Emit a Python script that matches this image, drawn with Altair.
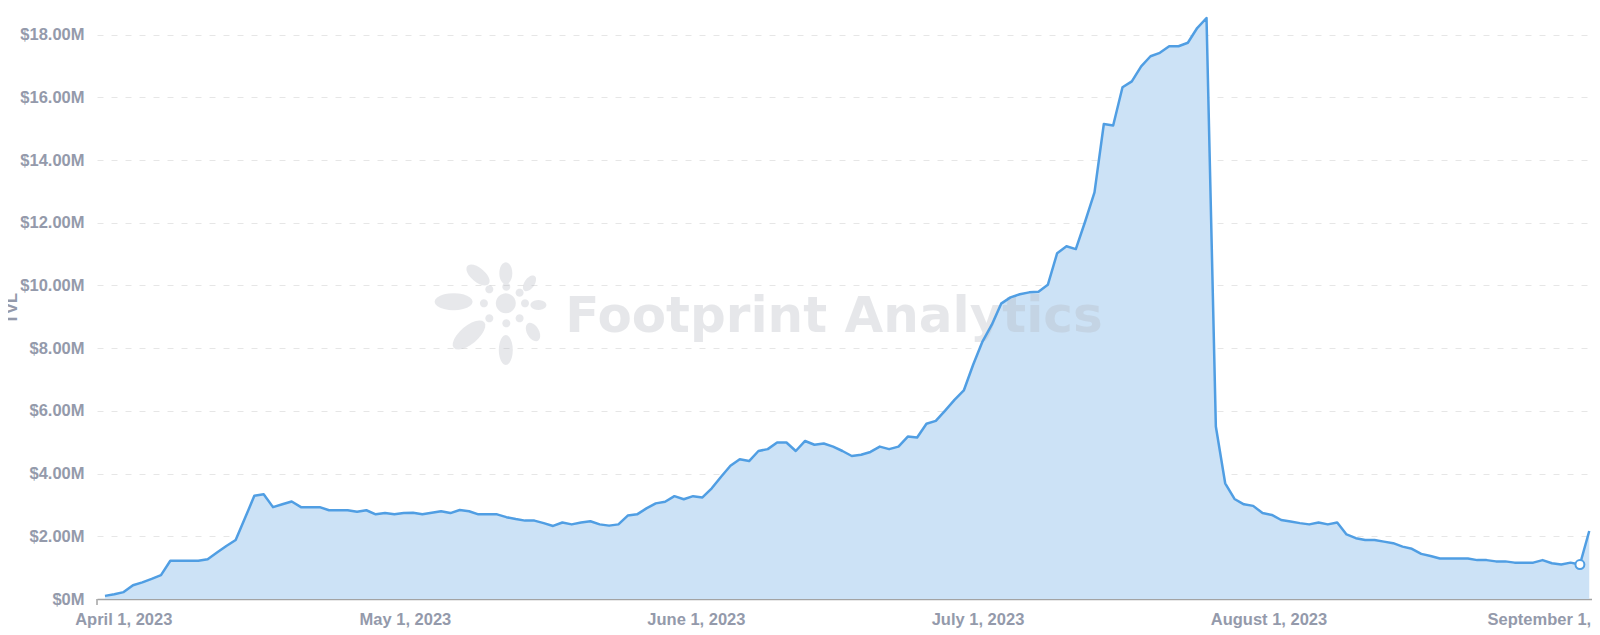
import math
import altair as alt
import pandas as pd

# ---------------- data ----------------
# points are evenly spaced between the first and the last reading
first_time = "2023-03-30T01:12:00"
last_time = "2023-09-04T04:05:00"
tvl_millions = [
    0.10, 0.15, 0.22, 0.44, 0.53, 0.64, 0.76, 1.22, 1.22, 1.22, 1.22, 1.27, 1.48, 1.69, 1.88, 2.58,
    3.29, 3.34, 2.93, 3.02, 3.11, 2.93, 2.93, 2.93, 2.83, 2.83, 2.83, 2.78, 2.83, 2.70, 2.74, 2.70,
    2.74, 2.75, 2.70, 2.75, 2.80, 2.74, 2.84, 2.80, 2.70, 2.70, 2.70, 2.61, 2.55, 2.50, 2.50, 2.42,
    2.33, 2.44, 2.38, 2.44, 2.48, 2.38, 2.34, 2.38, 2.66, 2.70, 2.89, 3.05, 3.10, 3.28, 3.18, 3.28,
    3.24, 3.53, 3.90, 4.25, 4.46, 4.40, 4.72, 4.78, 4.99, 4.99, 4.72, 5.04, 4.92, 4.96, 4.86, 4.72,
    4.56, 4.60, 4.69, 4.86, 4.78, 4.86, 5.18, 5.15, 5.59, 5.68, 6.01, 6.35, 6.65, 7.47, 8.21, 8.75,
    9.42, 9.62, 9.72, 9.78, 9.80, 10.02, 11.03, 11.25, 11.16, 12.04, 12.97, 15.15, 15.10, 16.32,
    16.51, 16.99, 17.31, 17.42, 17.63, 17.63, 17.74, 18.21, 18.53,
    5.50, 3.69, 3.19, 3.02, 2.97, 2.74, 2.68, 2.52, 2.47, 2.42, 2.38, 2.44, 2.38, 2.44, 2.06, 1.94,
    1.88, 1.88, 1.83, 1.78, 1.67, 1.60, 1.44, 1.37, 1.29, 1.29, 1.29, 1.29, 1.24, 1.24, 1.20, 1.20,
    1.16, 1.16, 1.16, 1.24, 1.14, 1.10, 1.16, 1.10, 2.17,
]
highlight_index = len(tvl_millions) - 2
y_ticks = [0, 2, 4, 6, 8, 10, 12, 14, 16, 18]
y_max = 18.53
x_domain = ["2023-03-29T04:48:00", "2023-09-04T21:20:00"]
x_tick_dates = [(2023, 4), (2023, 5), (2023, 6), (2023, 7), (2023, 8), (2023, 9)]
watermark_text = "Footprint Analytics"

# ---------------- styling ----------------
BLUE = "#509EE3"
FILL = "#CCE2F6"
LABEL = "#949AAB"
FONT = "Liberation Sans"
W, H = 1499, 581

df = pd.DataFrame({
    "date": pd.date_range(first_time, last_time, periods=len(tvl_millions)),
    "tvl": tvl_millions,
})
hl = df.iloc[[highlight_index]]

x_scale = alt.Scale(domain=[alt.DateTime(year=2023, month=3, date=29, hours=4, minutes=48),
                            alt.DateTime(year=2023, month=9, date=4, hours=21, minutes=20)])
y_scale = alt.Scale(domain=[0, y_max], nice=False, zero=True)

x_axis = alt.Axis(
    values=[alt.DateTime(year=y, month=m, date=1) for y, m in x_tick_dates],
    format="%B %-d, %Y", title=None, grid=False, ticks=False, tickSize=0,
    labelFont=FONT, labelFontSize=16.5, labelFontWeight="bold", labelColor=LABEL,
    labelPadding=12, labelFlush=False, labelOverlap=False, labelBound=False,
    domainColor="#A3A3A3", domainWidth=1.5,
)
y_axis = alt.Axis(
    values=y_ticks,
    labelExpr="datum.value == 0 ? '$0M' : '$' + format(datum.value, '.2f') + 'M'",
    domain=False, ticks=False, tickSize=0, labelPadding=13,
    labelFont=FONT, labelFontSize=16.5, labelFontWeight="bold", labelColor=LABEL,
    grid=True, gridColor="#E6E6E6", gridDash=[6, 8], gridWidth=1,
    title="TVL", titleFont=FONT, titleFontSize=16.5, titleFontWeight="bold", titleColor=LABEL,
    titleAngle=270, titleX=-78, titleY=290, titleAlign="center", titleBaseline="bottom",
)

base = alt.Chart(df).encode(
    x=alt.X("date:T", scale=x_scale, axis=x_axis),
    y=alt.Y("tvl:Q", scale=y_scale, axis=y_axis),
)

area = base.mark_area(color=FILL, opacity=1)
line = base.mark_line(color=BLUE, strokeWidth=2.5, strokeJoin="round")
point = alt.Chart(hl).mark_point(filled=True, fill="white", stroke=BLUE, strokeWidth=2,
                                 size=80, opacity=1).encode(
    x=alt.X("date:T", scale=x_scale), y=alt.Y("tvl:Q", scale=y_scale))

# end ticks of the x axis
ends = pd.DataFrame({"date": pd.to_datetime(x_domain)})
end_ticks = alt.Chart(ends).mark_rule(color="#A3A3A3", strokeWidth=1.5).encode(
    x=alt.X("date:T", scale=x_scale), y=alt.value(H), y2=alt.value(H + 6))

# ---- watermark (logo made of ellipses + text) ----
def ellipse(cx, cy, rx, ry, ang, c=(496, 312), s=50.0, n=24):
    a = math.radians(ang)
    pts = []
    for i in range(n):
        t = 2 * math.pi * i / n
        ex, ey = rx * math.cos(t), ry * math.sin(t)
        px = cx + ex * math.cos(a) - ey * math.sin(a)
        py = cy + ex * math.sin(a) + ey * math.cos(a)
        pts.append(f"{(px - c[0]) / s:.3f},{(py - c[1]) / s:.3f}")
    return "M" + " L".join(pts) + " Z"

petals = [
    (505.8, 303.3, 10, 10, 0), (505.8, 273.3, 6.5, 11, 0), (478, 275, 14, 7, 40),
    (453.6, 301.7, 19, 8.5, 0), (469, 335, 20, 9, -40), (505.8, 350, 7, 15, 0),
    (533, 332, 10, 6, 60), (538.4, 305, 8, 5, 0), (529.5, 283.3, 5, 9, 35),
    (489.3, 289.3, 4, 4, 0), (506.3, 286.7, 4, 4, 0), (519.6, 292.7, 4, 4, 0),
    (483.9, 303.3, 4, 4, 0), (525, 303.3, 4, 4, 0), (489.3, 318.3, 4, 4, 0),
    (506.3, 323.3, 4, 4, 0), (519.6, 318.3, 4, 4, 0),
]
logo_path = " ".join(ellipse(*p) for p in petals)
one = pd.DataFrame({"k": [0]})
logo = alt.Chart(one).mark_point(shape=logo_path, size=10000, filled=True, fill="#B4B8C0",
                                 opacity=0.32, strokeWidth=0).encode(
    x=alt.value(496 - 97), y=alt.value(312 - 18))
wm_text = alt.Chart(one).mark_text(text=watermark_text, font="DejaVu Sans", fontSize=50,
                                   fontWeight="bold", color="#B4B8C0", opacity=0.32,
                                   align="center", baseline="alphabetic").encode(
    x=alt.value(834 - 97), y=alt.value(332 - 18))

# svg kept 1584 px wide so that the page (with its 8 px margins) is not wider than 1600;
# the plot runs a few px past the svg's right edge, where it is clipped as in the reference
chart = alt.layer(area, logo, wm_text, line, point, end_ticks).properties(
    width=W, height=H,
    padding={"left": 89, "top": 10, "right": -4, "bottom": 30},
    autosize=alt.AutoSizeParams(type="none"),
    background="white",
).configure_view(stroke=None)

chart.save("out.html", embed_options={"renderer": "svg", "actions": False})
